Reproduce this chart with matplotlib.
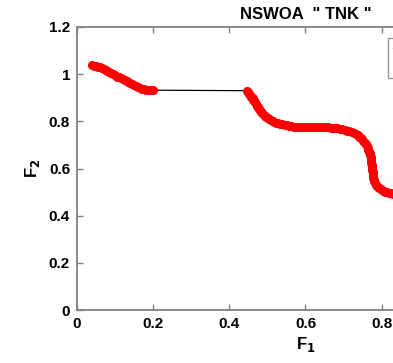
import matplotlib
matplotlib.use("Agg")
import matplotlib.pyplot as plt
from matplotlib.lines import Line2D

# Obtained Pareto front points (F1, F2)
f1 = [0.040, 0.045, 0.050, 0.055, 0.060, 0.065, 0.070, 0.075, 0.080, 0.085,
      0.090, 0.095, 0.100, 0.105, 0.110, 0.115, 0.120, 0.125, 0.130, 0.135,
      0.140, 0.145, 0.150, 0.155, 0.160, 0.165, 0.170, 0.175, 0.180, 0.185,
      0.190, 0.195, 0.200,
      0.447, 0.450, 0.452, 0.455, 0.458, 0.461, 0.463, 0.466, 0.468, 0.471,
      0.473, 0.476, 0.478, 0.481, 0.484, 0.487, 0.490, 0.493, 0.497, 0.501,
      0.505, 0.509, 0.514, 0.518, 0.523, 0.528, 0.533, 0.539, 0.545, 0.551,
      0.557, 0.563, 0.570, 0.577, 0.585, 0.592, 0.600, 0.607, 0.615, 0.622,
      0.630, 0.637, 0.645, 0.652, 0.660, 0.667, 0.675, 0.682, 0.690, 0.697,
      0.703, 0.709, 0.715, 0.721, 0.727, 0.732, 0.737, 0.741, 0.745, 0.749,
      0.752, 0.755, 0.758, 0.761, 0.763, 0.765, 0.767, 0.769, 0.770, 0.771,
      0.772, 0.773, 0.773, 0.774, 0.774, 0.775, 0.775, 0.776, 0.776, 0.777,
      0.778, 0.779, 0.781, 0.783, 0.785, 0.788, 0.791, 0.794, 0.798, 0.802,
      0.806, 0.810, 0.815, 0.820, 0.825, 0.830, 0.835, 0.840, 0.845]
f2 = [1.037, 1.036, 1.034, 1.032, 1.029, 1.026, 1.022, 1.018, 1.014, 1.009,
      1.004, 1.000, 0.995, 0.990, 0.986, 0.982, 0.978, 0.974, 0.970, 0.966,
      0.962, 0.958, 0.954, 0.950, 0.946, 0.942, 0.939, 0.936, 0.934, 0.933,
      0.932, 0.932, 0.932,
      0.930, 0.924, 0.918, 0.911, 0.904, 0.898, 0.892, 0.886, 0.880, 0.873,
      0.866, 0.860, 0.853, 0.846, 0.840, 0.834, 0.828, 0.823, 0.818, 0.813,
      0.809, 0.805, 0.801, 0.798, 0.795, 0.792, 0.790, 0.787, 0.785, 0.783,
      0.781, 0.779, 0.778, 0.777, 0.776, 0.775, 0.775, 0.775, 0.775, 0.775,
      0.775, 0.775, 0.774, 0.774, 0.774, 0.773, 0.772, 0.771, 0.769, 0.767,
      0.764, 0.761, 0.758, 0.754, 0.750, 0.745, 0.740, 0.735, 0.729, 0.723,
      0.717, 0.710, 0.703, 0.696, 0.688, 0.680, 0.672, 0.664, 0.656, 0.648,
      0.640, 0.632, 0.624, 0.616, 0.608, 0.600, 0.592, 0.584, 0.576, 0.568,
      0.560, 0.552, 0.545, 0.538, 0.532, 0.526, 0.521, 0.516, 0.512, 0.508,
      0.505, 0.502, 0.499, 0.496, 0.494, 0.492, 0.490, 0.488, 0.486]

xticks = [0, 0.2, 0.4, 0.6, 0.8, 1, 1.2]
xtick_labels = ["0", "0.2", "0.4", "0.6", "0.8", "1", "1.2"]
yticks = [0, 0.2, 0.4, 0.6, 0.8, 1, 1.2]
ytick_labels = ["0", "0.2", "0.4", "0.6", "0.8", "1", "1.2"]

plt.rcParams['font.family'] = ['Liberation Sans', 'DejaVu Sans']
plt.rcParams['font.weight'] = 'bold'

fig = plt.figure(figsize=(3.93, 3.63), dpi=100)
W, H = 393, 363
ax = fig.add_axes([77 / W, (H - 310) / H, 457 / W, 283 / H])

ax.plot(f1, f2, color='black', linewidth=0.9, zorder=2)
ax.plot(f1, f2, linestyle='none', marker='o', markersize=5.5,
        markerfacecolor='red', markeredgecolor='red', zorder=3)

ax.set_xlim(0, 1.2)
ax.set_ylim(0, 1.2)
ax.set_xticks(xticks)
ax.set_xticklabels(xtick_labels)
ax.set_yticks(yticks)
ax.set_yticklabels(ytick_labels)

for s in ax.spines.values():
    s.set_color('#808080')
    s.set_linewidth(1.3)

ax.tick_params(axis='both', direction='in', length=4, width=1, color='#808080',
               labelsize=11, labelcolor='black', top=True, right=True, pad=5)
for lab in ax.get_xticklabels() + ax.get_yticklabels():
    lab.set_fontweight('bold')

ax.set_xlabel('F$_\\mathbf{1}$', fontsize=12, fontweight='bold', labelpad=3)
ax.set_ylabel('F$_\\mathbf{2}$', fontsize=12, fontweight='bold', labelpad=5)
ax.set_title('NSWOA  " TNK "', fontsize=12, fontweight='bold', pad=6)

handles = [Line2D([], [], color='black', linewidth=0.9, label='True PF'),
           Line2D([], [], linestyle='none', marker='o', color='red', label='NSWOA')]
leg = ax.legend(handles=handles, loc='upper left', bbox_to_anchor=(311 / 457, (310 - 38) / 283),
                frameon=True, fancybox=False, fontsize=9, borderaxespad=0)
leg.get_frame().set_edgecolor('#808080')
leg.get_frame().set_linewidth(1.0)

fig.savefig('out.png', dpi=100)
